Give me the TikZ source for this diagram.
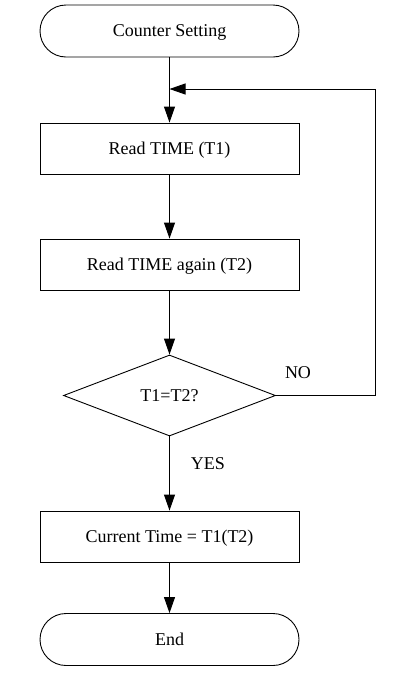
\documentclass[tikz,border=0pt]{standalone}
\usepackage{fontspec}
\setmainfont{Liberation Serif}
\usetikzlibrary{arrows.meta,shapes.geometric}
\begin{document}
\begin{tikzpicture}[x=1pt,y=-1pt,
  font=\fontsize{18}{21}\selectfont,
  line width=0.9pt,
  term/.style={draw, rectangle, rounded corners=26pt, minimum width=259pt, minimum height=52pt, inner sep=0pt, text depth=0pt},
  proc/.style={draw, rectangle, minimum width=259pt, minimum height=51pt, inner sep=0pt, text depth=0pt},
  dec/.style={draw, diamond, aspect=2.6, minimum width=212pt, minimum height=81pt, inner sep=0pt, text depth=0pt},
  lbl/.style={inner sep=0pt},
  arr/.style={-{Triangle[length=16pt,width=11pt]}}]
\useasboundingbox (0,0) rectangle (403,678);
\node[term] (start) at (169.5,31) {Counter Setting};
\node[proc] (r1) at (169.5,148.5) {Read TIME (T1)};
\node[proc] (r2) at (169.5,264.5) {Read TIME again (T2)};
\node[dec] (d) at (169.5,395.5) {T1=T2?};
\node[proc] (cur) at (169.5,536.5) {Current Time = T1(T2)};
\node[term] (end) at (169.5,639.5) {End};
\node[lbl] (no) at (298,373) {NO};
\node[lbl] (yes) at (208,464) {YES};
\coordinate (loopc) at (375,89);
\coordinate (join) at (169.5,89);
\draw[arr] (start) -- (r1);
\draw[arr] (r1) -- (r2);
\draw[arr] (r2) -- (d);
\draw[arr] (d) -- (cur);
\draw[arr] (cur) -- (end);
\draw[arr] (d.east) -| (loopc) -- (join);
\end{tikzpicture}
\end{document}
